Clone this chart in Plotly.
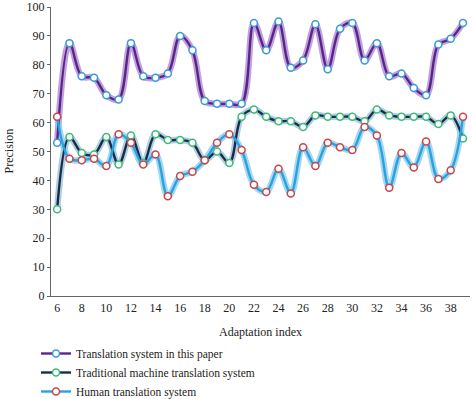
import plotly.graph_objects as go

adaptation_index = list(range(6, 40))
paper_system = [53, 87.5, 76, 75.5, 69.5, 68, 87.5, 76, 75.5, 77, 90, 85, 67.5, 66.5, 66.5, 66.5,
                94.5, 85, 95, 79, 81.5, 94, 78.5, 92.5, 94.5, 81.5, 87.5, 76, 77, 72, 69.5, 87, 89, 94.5]
traditional_system = [30, 55, 49.5, 49, 55, 45.5, 55.5, 46, 56, 54, 54, 53, 47, 50, 46, 62,
                      64.5, 62, 60.5, 60.5, 58.5, 62.5, 62, 62, 62, 60.5, 64.5, 62.5, 62, 62, 62, 59.5, 62.5, 54.5]
human_system = [62, 47.5, 47, 47.5, 45, 56, 53, 45.5, 49, 34.5, 41.5, 43, 47, 53, 56, 50.5,
                38.5, 36, 44, 35.5, 51.5, 45, 53, 51.5, 50.5, 58.5, 55.5, 37.5, 49.5, 44.5, 53.5, 40.5, 43.5, 62]
series_names = ["Translation system in this paper",
                "Traditional machine translation system",
                "Human translation system"]
x_ticks = list(range(6, 40, 2))
y_ticks = list(range(0, 101, 10))

styles = [
    dict(glow="rgba(170,130,215,0.75)", line="#5a2585", marker="#3a9ad8"),
    dict(glow="rgba(120,175,200,0.6)", line="#1c2b4d", marker="#3dba7c"),
    dict(glow="rgba(140,205,240,0.8)", line="#2aa2dc", marker="#c8454a"),
]
data = [paper_system, traditional_system, human_system]

fig = go.Figure()
for vals, st in zip(data, styles):
    fig.add_trace(go.Scatter(
        x=adaptation_index, y=vals, mode="lines",
        line=dict(color=st["glow"], width=6.5, shape="spline", smoothing=1.0),
        showlegend=False, hoverinfo="skip"))
for name, vals, st in zip(series_names, data, styles):
    fig.add_trace(go.Scatter(
        x=adaptation_index, y=vals, mode="lines+markers", name=name,
        line=dict(color=st["line"], width=2.4, shape="spline", smoothing=1.0),
        marker=dict(symbol="circle", size=7, color="white",
                    line=dict(color=st["marker"], width=1.5))))

font = "Liberation Serif"
fig.update_layout(
    width=474, height=399,
    margin=dict(l=51, r=4, t=7, b=103, autoexpand=False),
    paper_bgcolor="white", plot_bgcolor="white",
    font=dict(family=font, size=12, color="#222"),
    showlegend=True,
    legend=dict(orientation="v", xref="container", yref="container",
                x=36 / 474, xanchor="left", y=1 - 339 / 399, yanchor="top",
                font=dict(family=font, size=11.5, color="#222"),
                itemwidth=30, tracegroupgap=0, bgcolor="rgba(0,0,0,0)"),
    xaxis=dict(range=[5.5, 39.57], tickvals=x_ticks, showgrid=False, zeroline=False,
               showline=True, linecolor="#666", linewidth=1.2, ticks="",
               automargin=False,
               title=dict(text="Adaptation index", standoff=14,
                          font=dict(family=font, size=12))),
    yaxis=dict(range=[0, 100], tickvals=y_ticks, showgrid=False, zeroline=False,
               showline=True, linecolor="#666", linewidth=1.2, ticks="outside",
               ticklen=3, tickcolor="#666", automargin=False),
    annotations=[dict(text="Precision", textangle=-90, xref="paper", yref="paper",
                      x=0, y=0.5, xanchor="center", yanchor="middle", xshift=-43,
                      showarrow=False, font=dict(family=font, size=12, color="#222"))],
)

fig.write_html("out.html", config={"displayModeBar": False},
               post_script="document.body.style.margin='0';")
